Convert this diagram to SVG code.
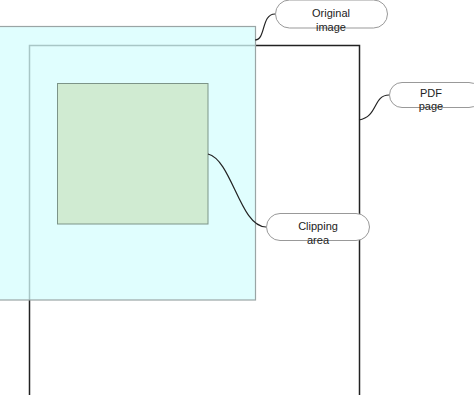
<svg xmlns="http://www.w3.org/2000/svg" width="474" height="395" viewBox="0 0 474 395">
<style>
.lbl{font-family:"Liberation Sans",Arial,sans-serif;font-size:11px;fill:#222;text-anchor:middle}
.pill{fill:#fff;stroke:#999;stroke-width:1}
.conn{fill:none;stroke:#222;stroke-width:1.2}
</style>
<rect width="474" height="395" fill="#fff"/>
<g id="pdf-page">
<rect x="29.5" y="45.5" width="330" height="360" fill="#fff" stroke="#222" stroke-width="1.5"/>
</g>
<g id="original-image">
<rect x="-10" y="26.5" width="265.5" height="273.5" fill="#d6fdfd" fill-opacity="0.75" stroke="#9aa5a5" stroke-width="1.2"/>
</g>
<g id="clipping-rect">
<rect x="57.5" y="83.5" width="150.5" height="140.5" fill="#d0ebd2" stroke="#7c9488" stroke-width="1"/>
</g>
<g id="connectors">
<path class="conn" d="M255,40 C266,40 261,14 275,14"/>
<path class="conn" d="M359,120 C378,117 373,95 389,95"/>
<path class="conn" d="M208,154 C232,160 240,227 266,227"/>
</g>
<g id="label-original">
<rect class="pill" x="275.5" y="0" width="112" height="28" rx="14"/>
<text class="lbl" x="331" y="17">Original</text>
<text class="lbl" x="331" y="31">image</text>
</g>
<g id="label-pdf">
<rect class="pill" x="389.5" y="82.5" width="92" height="25" rx="12.5"/>
<text class="lbl" x="431" y="97">PDF</text>
<text class="lbl" x="431" y="110">page</text>
</g>
<g id="label-clipping">
<rect class="pill" x="266.5" y="213.5" width="103" height="27" rx="13.5"/>
<text class="lbl" x="318" y="230">Clipping</text>
<text class="lbl" x="318" y="244">area</text>
</g>
</svg>
